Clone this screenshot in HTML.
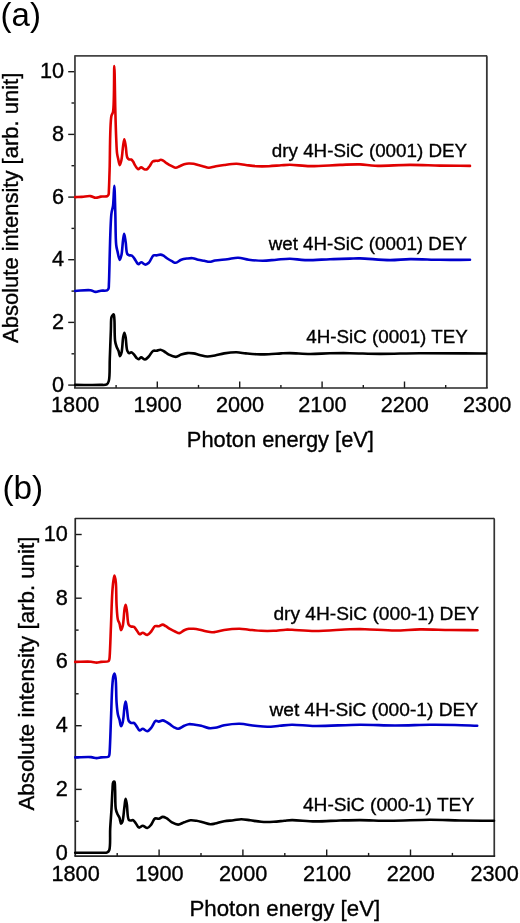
<!DOCTYPE html>
<html><head><meta charset="utf-8"><style>
html,body{margin:0;padding:0;background:#fff;}
svg{display:block;}
text{font-family:"Liberation Sans",Arial,sans-serif;fill:#000;stroke:#000;stroke-width:0.35px;}
.tk{font-size:21.7px;}
.ti{font-size:22px;}
.lg{font-size:18.8px;}
.pl{font-size:33px;stroke-width:0;}
</style></head><body>
<svg width="520" height="923" viewBox="0 0 520 923">
<rect width="520" height="923" fill="#fff"/>
<text x="0.6" y="25.8" class="pl">(a)</text>
<text x="2.4" y="499" class="pl" style="font-size:33.3px">(b)</text>
<text transform="translate(18.3,343) rotate(-90)" class="ti">Absolute intensity [arb. unit]</text>
<text transform="translate(33.5,810.5) rotate(-90)" class="ti" style="font-size:22.3px">Absolute intensity [arb. unit]</text>
<text x="186.8" y="446.9" class="ti" style="font-size:21.86px">Photon energy [eV]</text>
<text x="189.4" y="915.8" class="ti" style="font-size:22.3px">Photon energy [eV]</text>
<text x="271.85" y="157.1" class="lg">dry 4H-SiC (0001) DEY</text>
<text x="268.65" y="250.4" class="lg">wet 4H-SiC (0001) DEY</text>
<text x="306.3" y="343.1" class="lg">4H-SiC (0001) TEY</text>
<text x="273.4" y="620.4" class="lg" style="font-size:19.18px">dry 4H-SiC (000-1) DEY</text>
<text x="269.5" y="716.2" class="lg" style="font-size:19.15px">wet 4H-SiC (000-1) DEY</text>
<text x="302.9" y="810.8" class="lg" style="font-size:19.2px">4H-SiC (000-1) TEY</text>
<line x1="116.1" y1="388.1" x2="116.1" y2="384.90000000000003" stroke="#1a1a1a" stroke-width="1.4"/>
<line x1="157.3" y1="388.1" x2="157.3" y2="381.5" stroke="#1a1a1a" stroke-width="1.4"/>
<line x1="198.5" y1="388.1" x2="198.5" y2="384.90000000000003" stroke="#1a1a1a" stroke-width="1.4"/>
<line x1="239.7" y1="388.1" x2="239.7" y2="381.5" stroke="#1a1a1a" stroke-width="1.4"/>
<line x1="280.9" y1="388.1" x2="280.9" y2="384.90000000000003" stroke="#1a1a1a" stroke-width="1.4"/>
<line x1="322.1" y1="388.1" x2="322.1" y2="381.5" stroke="#1a1a1a" stroke-width="1.4"/>
<line x1="363.3" y1="388.1" x2="363.3" y2="384.90000000000003" stroke="#1a1a1a" stroke-width="1.4"/>
<line x1="404.5" y1="388.1" x2="404.5" y2="381.5" stroke="#1a1a1a" stroke-width="1.4"/>
<line x1="445.7" y1="388.1" x2="445.7" y2="384.90000000000003" stroke="#1a1a1a" stroke-width="1.4"/>
<line x1="68.2" y1="385.1" x2="74.95" y2="385.1" stroke="#1a1a1a" stroke-width="1.4"/>
<line x1="71.5" y1="353.8" x2="74.95" y2="353.8" stroke="#1a1a1a" stroke-width="1.4"/>
<line x1="68.2" y1="322.4" x2="74.95" y2="322.4" stroke="#1a1a1a" stroke-width="1.4"/>
<line x1="71.5" y1="291.1" x2="74.95" y2="291.1" stroke="#1a1a1a" stroke-width="1.4"/>
<line x1="68.2" y1="259.7" x2="74.95" y2="259.7" stroke="#1a1a1a" stroke-width="1.4"/>
<line x1="71.5" y1="228.4" x2="74.95" y2="228.4" stroke="#1a1a1a" stroke-width="1.4"/>
<line x1="68.2" y1="197.1" x2="74.95" y2="197.1" stroke="#1a1a1a" stroke-width="1.4"/>
<line x1="71.5" y1="165.7" x2="74.95" y2="165.7" stroke="#1a1a1a" stroke-width="1.4"/>
<line x1="68.2" y1="134.4" x2="74.95" y2="134.4" stroke="#1a1a1a" stroke-width="1.4"/>
<line x1="71.5" y1="103.0" x2="74.95" y2="103.0" stroke="#1a1a1a" stroke-width="1.4"/>
<line x1="68.2" y1="71.7" x2="74.95" y2="71.7" stroke="#1a1a1a" stroke-width="1.4"/>
<path d="M74.95,388.1 V55.8 H486.85" fill="none" stroke="#444" stroke-width="1.8" stroke-linejoin="round"/>
<path d="M485.95000000000005,55.8 Q486.85,55.8 486.85,56.699999999999996 V388.1" fill="none" stroke="#363636" stroke-width="1.8"/>
<path d="M74.05,388.1 H487.75" fill="none" stroke="#262626" stroke-width="1.5"/>
<path d="M75.20,197.10 C77.43,197.03 79.54,197.05 81.90,196.90 C84.54,196.73 87.82,195.87 90.30,196.10 C92.35,196.29 94.00,197.64 95.80,197.70 C97.50,197.76 99.03,196.84 100.80,196.60 C102.77,196.34 105.82,196.89 107.10,196.30 C107.83,195.96 108.18,195.51 108.50,194.80 C108.99,193.70 108.77,192.15 108.90,190.00 C109.16,185.62 109.32,178.29 109.60,170.00 C110.07,156.38 109.78,123.57 111.40,116.00 C111.85,113.89 112.56,114.18 113.00,112.10 C114.46,105.23 113.91,66.00 114.30,66.00 C114.68,66.00 114.95,96.52 115.30,109.50 C115.59,120.03 115.84,130.00 116.20,138.10 C116.47,144.08 116.59,149.91 117.10,153.70 C117.40,155.91 117.79,157.09 118.20,158.90 C118.65,160.88 119.13,165.07 119.70,165.10 C120.21,165.12 120.92,162.29 121.40,160.20 C122.20,156.71 122.52,149.77 123.10,145.90 C123.50,143.24 123.87,139.21 124.30,139.20 C124.73,139.19 125.26,143.35 125.70,145.90 C126.28,149.25 126.23,155.44 127.30,157.60 C127.81,158.63 128.49,159.21 129.20,159.50 C129.81,159.75 130.59,159.24 131.20,159.50 C131.91,159.81 132.51,160.67 133.10,161.50 C133.84,162.54 134.29,164.15 135.10,165.40 C135.95,166.72 136.99,168.99 138.10,169.20 C139.05,169.38 140.18,167.39 141.20,167.40 C142.21,167.41 143.18,168.92 144.20,169.20 C145.12,169.45 146.16,169.58 147.00,169.20 C148.00,168.74 148.73,167.34 149.60,166.20 C150.63,164.84 151.47,162.35 152.70,161.50 C153.62,160.86 154.84,160.91 155.80,160.80 C156.62,160.71 157.32,160.95 158.10,160.80 C158.98,160.63 159.90,159.70 160.80,159.70 C161.70,159.70 162.61,160.29 163.50,160.80 C164.51,161.38 165.32,162.32 166.50,163.10 C168.01,164.11 170.22,165.40 171.90,166.20 C173.28,166.86 174.51,167.71 175.80,167.70 C177.08,167.69 178.28,166.74 179.60,166.20 C181.06,165.61 182.64,164.75 184.20,164.30 C185.71,163.86 187.25,163.58 188.80,163.50 C190.35,163.42 191.96,163.54 193.50,163.80 C195.06,164.07 196.56,164.70 198.10,165.10 C199.63,165.50 201.06,165.80 202.70,166.20 C204.59,166.66 206.75,167.65 208.80,167.70 C210.85,167.75 212.73,166.91 215.00,166.50 C217.76,166.01 220.90,165.43 224.20,165.00 C228.00,164.51 232.69,163.74 236.50,163.80 C239.82,163.85 242.59,164.61 245.80,165.00 C249.24,165.41 252.80,165.99 256.50,166.20 C260.45,166.42 264.69,166.35 268.80,166.20 C272.93,166.05 277.42,165.54 281.20,165.30 C284.38,165.09 286.47,164.79 290.00,164.80 C295.32,164.82 302.66,166.01 310.00,166.10 C318.99,166.21 331.01,165.19 340.00,164.90 C347.34,164.66 353.82,164.19 360.00,164.40 C365.36,164.58 368.95,165.60 375.00,165.80 C384.22,166.11 398.78,164.91 410.00,164.90 C420.39,164.89 430.00,165.43 440.00,165.60 C450.00,165.77 460.00,165.80 470.00,165.90" fill="none" stroke="#e00000" stroke-width="2.6" stroke-linejoin="round" stroke-linecap="round"/>
<path d="M75.20,291.00 C80.23,290.73 86.59,289.72 90.30,290.20 C92.55,290.49 93.83,291.83 95.60,291.90 C97.33,291.97 98.97,290.95 100.80,290.70 C102.79,290.43 105.82,291.02 107.10,290.40 C107.84,290.04 108.18,289.54 108.50,288.80 C108.98,287.68 108.75,286.54 108.90,284.00 C109.48,274.30 110.01,225.47 111.40,213.80 C111.87,209.87 112.57,209.23 113.00,206.00 C113.69,200.86 113.93,185.80 114.30,185.80 C114.72,185.81 115.00,203.16 115.30,212.50 C115.64,222.80 115.44,238.36 116.20,245.00 C116.54,247.98 116.97,249.12 117.50,251.40 C118.11,254.04 118.95,259.86 119.70,259.90 C120.26,259.93 120.92,257.33 121.40,255.30 C122.25,251.68 122.51,243.63 123.10,239.70 C123.46,237.29 123.81,233.90 124.20,233.90 C124.67,233.90 125.22,239.26 125.70,242.30 C126.26,245.87 126.14,252.12 127.30,254.00 C127.81,254.83 128.48,255.03 129.20,255.30 C129.97,255.59 131.01,255.18 131.80,255.60 C132.78,256.12 133.53,257.43 134.40,258.60 C135.49,260.06 136.86,263.01 137.70,263.80 C138.04,264.12 138.23,264.33 138.60,264.30 C139.25,264.25 140.19,262.38 141.20,262.30 C142.43,262.20 144.16,264.61 145.50,264.60 C146.67,264.60 147.73,263.80 148.80,262.80 C150.44,261.27 151.84,256.31 153.50,255.40 C154.47,254.87 155.44,255.51 156.50,255.40 C157.72,255.28 159.19,254.52 160.40,254.60 C161.50,254.68 162.46,255.15 163.50,255.70 C164.75,256.36 165.95,257.61 167.30,258.50 C168.74,259.45 170.40,260.46 171.90,261.20 C173.23,261.86 174.42,262.89 175.80,262.80 C177.48,262.69 179.28,260.42 181.20,259.70 C183.12,258.98 185.32,258.75 187.30,258.50 C189.15,258.27 190.92,258.01 192.70,258.20 C194.52,258.40 196.23,259.27 198.10,259.70 C200.06,260.15 202.23,260.44 204.20,260.80 C206.06,261.14 207.81,261.85 209.60,261.80 C211.41,261.75 212.82,260.88 215.00,260.50 C218.25,259.94 223.34,259.68 227.30,259.20 C231.02,258.75 234.52,257.62 238.10,257.70 C241.68,257.78 244.99,259.19 248.80,259.70 C253.12,260.27 258.08,260.80 262.70,260.80 C267.31,260.80 271.92,260.05 276.50,259.70 C281.02,259.35 285.38,258.66 290.00,258.70 C294.87,258.75 299.36,259.94 305.00,260.10 C312.27,260.31 322.13,259.46 330.00,259.20 C337.04,258.97 344.48,258.74 350.00,258.60 C353.90,258.50 355.78,258.32 360.00,258.40 C367.32,258.53 381.01,260.07 390.00,260.10 C397.34,260.12 402.66,259.20 410.00,259.10 C418.99,258.98 430.00,259.68 440.00,259.80 C450.00,259.92 460.00,259.80 470.00,259.80" fill="none" stroke="#0000cc" stroke-width="2.6" stroke-linejoin="round" stroke-linecap="round"/>
<path d="M75.20,384.90 C83.47,384.90 94.32,385.11 100.00,384.90 C102.98,384.79 105.32,385.32 106.80,384.40 C107.92,383.70 108.29,382.72 108.80,381.00 C110.02,376.88 109.47,366.49 109.80,358.50 C110.17,349.40 110.57,336.94 110.90,329.30 C111.11,324.36 110.80,319.40 111.50,317.10 C111.80,316.10 112.26,315.57 112.70,315.10 C113.01,314.76 113.44,314.29 113.70,314.40 C114.24,314.63 114.21,317.21 114.40,319.50 C114.80,324.19 114.40,336.13 115.10,341.00 C115.47,343.57 115.97,345.09 116.60,346.80 C117.14,348.26 117.96,349.27 118.50,350.70 C119.12,352.33 119.44,356.06 120.00,356.10 C120.46,356.13 121.07,354.29 121.50,352.70 C122.38,349.43 122.52,340.69 123.20,337.10 C123.57,335.17 124.00,332.70 124.40,332.70 C124.80,332.70 125.23,335.21 125.60,337.10 C126.25,340.37 126.19,348.06 127.30,350.70 C127.84,351.98 128.57,353.05 129.30,353.20 C129.89,353.32 130.54,352.15 131.20,352.20 C132.00,352.27 132.89,353.28 133.70,354.10 C134.71,355.12 135.64,357.13 136.60,358.00 C137.27,358.60 137.90,359.22 138.60,359.20 C139.42,359.17 140.23,357.45 141.20,357.40 C142.33,357.34 143.77,359.60 145.00,359.50 C146.30,359.39 147.56,357.75 148.80,356.50 C150.31,354.97 151.64,351.57 153.20,350.80 C154.26,350.28 155.37,350.96 156.50,350.80 C157.76,350.63 159.13,349.59 160.40,349.70 C161.70,349.81 162.90,350.76 164.20,351.50 C165.69,352.35 167.04,353.74 168.80,354.60 C170.83,355.59 173.63,356.99 175.80,356.90 C177.73,356.82 179.32,355.23 181.20,354.60 C183.15,353.95 185.24,353.30 187.30,353.10 C189.34,352.90 191.46,353.10 193.50,353.40 C195.56,353.70 197.44,354.41 199.60,354.90 C202.01,355.45 204.73,356.40 207.30,356.50 C209.86,356.60 212.33,355.98 215.00,355.50 C217.94,354.97 220.89,353.92 224.20,353.40 C227.98,352.80 232.69,352.25 236.50,352.30 C239.82,352.35 242.59,353.08 245.80,353.40 C249.24,353.75 252.81,354.16 256.50,354.30 C260.45,354.45 264.69,354.35 268.80,354.20 C272.93,354.05 277.42,353.59 281.20,353.40 C284.38,353.24 286.47,353.08 290.00,353.10 C295.32,353.13 303.33,353.97 310.00,354.00 C316.67,354.03 323.33,353.43 330.00,353.30 C336.67,353.17 342.66,353.13 350.00,353.20 C358.99,353.28 369.28,353.87 380.00,353.90 C392.38,353.94 405.01,353.30 420.00,353.20 C439.26,353.08 464.00,353.40 486.00,353.50" fill="none" stroke="#000" stroke-width="2.6" stroke-linejoin="round" stroke-linecap="round"/>
<text x="64.0" y="391.6" text-anchor="end" class="tk">0</text>
<text x="64.0" y="328.9" text-anchor="end" class="tk">2</text>
<text x="64.0" y="266.2" text-anchor="end" class="tk">4</text>
<text x="64.0" y="203.5" text-anchor="end" class="tk">6</text>
<text x="64.0" y="140.8" text-anchor="end" class="tk">8</text>
<text x="64.0" y="78.2" text-anchor="end" class="tk">10</text>
<text x="75.2" y="412.2" text-anchor="middle" class="tk">1800</text>
<text x="157.6" y="412.2" text-anchor="middle" class="tk">1900</text>
<text x="240.0" y="412.2" text-anchor="middle" class="tk">2000</text>
<text x="322.4" y="412.2" text-anchor="middle" class="tk">2100</text>
<text x="404.8" y="412.2" text-anchor="middle" class="tk">2200</text>
<text x="487.2" y="412.2" text-anchor="middle" class="tk">2300</text>
<line x1="117.2" y1="856.1" x2="117.2" y2="852.9" stroke="#1a1a1a" stroke-width="1.4"/>
<line x1="159.1" y1="856.1" x2="159.1" y2="849.5" stroke="#1a1a1a" stroke-width="1.4"/>
<line x1="201.0" y1="856.1" x2="201.0" y2="852.9" stroke="#1a1a1a" stroke-width="1.4"/>
<line x1="242.9" y1="856.1" x2="242.9" y2="849.5" stroke="#1a1a1a" stroke-width="1.4"/>
<line x1="284.8" y1="856.1" x2="284.8" y2="852.9" stroke="#1a1a1a" stroke-width="1.4"/>
<line x1="326.7" y1="856.1" x2="326.7" y2="849.5" stroke="#1a1a1a" stroke-width="1.4"/>
<line x1="368.6" y1="856.1" x2="368.6" y2="852.9" stroke="#1a1a1a" stroke-width="1.4"/>
<line x1="410.5" y1="856.1" x2="410.5" y2="849.5" stroke="#1a1a1a" stroke-width="1.4"/>
<line x1="452.4" y1="856.1" x2="452.4" y2="852.9" stroke="#1a1a1a" stroke-width="1.4"/>
<line x1="75.26" y1="821.3" x2="78.6" y2="821.3" stroke="#1a1a1a" stroke-width="1.4"/>
<line x1="75.26" y1="789.4" x2="81.7" y2="789.4" stroke="#1a1a1a" stroke-width="1.4"/>
<line x1="75.26" y1="757.5" x2="78.6" y2="757.5" stroke="#1a1a1a" stroke-width="1.4"/>
<line x1="75.26" y1="725.7" x2="81.7" y2="725.7" stroke="#1a1a1a" stroke-width="1.4"/>
<line x1="75.26" y1="693.8" x2="78.6" y2="693.8" stroke="#1a1a1a" stroke-width="1.4"/>
<line x1="75.26" y1="661.9" x2="81.7" y2="661.9" stroke="#1a1a1a" stroke-width="1.4"/>
<line x1="75.26" y1="630.1" x2="78.6" y2="630.1" stroke="#1a1a1a" stroke-width="1.4"/>
<line x1="75.26" y1="598.2" x2="81.7" y2="598.2" stroke="#1a1a1a" stroke-width="1.4"/>
<line x1="75.26" y1="566.3" x2="78.6" y2="566.3" stroke="#1a1a1a" stroke-width="1.4"/>
<line x1="75.26" y1="534.5" x2="81.7" y2="534.5" stroke="#1a1a1a" stroke-width="1.4"/>
<path d="M75.26,856.1 V518.5 H494.27" fill="none" stroke="#262626" stroke-width="1.7" stroke-linejoin="round"/>
<path d="M493.41999999999996,518.5 Q494.27,518.5 494.27,519.35 V856.1" fill="none" stroke="#333" stroke-width="1.7"/>
<path d="M74.36,856.1 H495.16999999999996" fill="none" stroke="#222" stroke-width="1.6"/>
<path d="M75.20,661.90 C80.47,661.83 87.08,661.41 91.00,661.70 C93.35,661.87 94.85,662.60 96.60,662.60 C98.15,662.60 99.34,662.10 101.00,661.90 C103.14,661.64 107.18,662.13 108.40,661.30 C109.04,660.87 109.09,660.22 109.30,659.50 C109.58,658.55 109.56,657.75 109.70,656.00 C110.11,650.80 110.57,635.37 111.00,624.90 C111.44,614.21 111.76,600.60 112.30,592.50 C112.63,587.62 112.93,583.91 113.40,580.80 C113.72,578.71 114.12,575.60 114.50,575.60 C114.92,575.60 115.47,579.24 115.80,582.10 C116.42,587.47 116.17,598.67 116.60,605.50 C116.93,610.83 117.11,616.48 117.90,619.70 C118.33,621.45 119.03,622.11 119.50,623.60 C120.10,625.47 120.38,630.04 121.00,630.10 C121.49,630.15 122.21,628.03 122.70,626.20 C123.71,622.41 123.95,611.56 124.70,608.00 C125.02,606.48 125.38,604.78 125.70,604.80 C126.17,604.83 126.56,609.17 127.00,611.90 C127.59,615.58 127.45,622.74 128.80,624.90 C129.43,625.91 130.33,626.17 131.20,626.50 C132.06,626.83 133.14,626.40 134.00,626.90 C135.13,627.56 136.04,629.53 137.00,630.80 C137.90,631.99 138.58,634.05 139.60,634.30 C140.51,634.52 141.56,632.81 142.70,632.80 C144.08,632.78 145.89,635.10 147.30,634.90 C148.73,634.69 149.98,632.84 151.20,631.50 C152.57,629.99 153.51,626.96 155.00,626.20 C156.14,625.62 157.55,626.45 158.80,626.20 C160.12,625.94 161.49,624.55 162.70,624.60 C163.80,624.65 164.68,625.55 165.80,626.20 C167.20,627.02 168.84,628.31 170.40,629.20 C171.91,630.07 173.45,630.84 175.00,631.50 C176.51,632.14 178.10,633.26 179.60,633.10 C181.17,632.93 182.62,631.02 184.20,630.30 C185.69,629.61 187.24,629.05 188.80,628.80 C190.34,628.56 191.84,628.68 193.50,628.80 C195.41,628.94 197.57,629.31 199.60,629.70 C201.67,630.10 203.74,630.76 205.80,631.20 C207.84,631.63 210.20,632.23 211.90,632.30 C213.10,632.35 213.70,632.20 215.00,632.00 C217.26,631.65 220.72,630.51 224.20,630.00 C228.66,629.35 235.13,628.76 239.60,628.80 C243.06,628.83 245.50,629.39 248.80,629.70 C252.62,630.06 257.07,630.62 261.20,630.80 C265.30,630.98 269.40,630.98 273.50,630.80 C277.60,630.62 282.39,629.82 285.80,629.70 C288.21,629.61 289.28,629.71 292.00,629.80 C297.24,629.98 306.53,630.98 315.00,631.00 C325.45,631.02 340.77,629.55 350.00,629.30 C356.04,629.13 359.14,629.09 365.00,629.20 C373.29,629.35 385.46,630.50 395.00,630.50 C403.71,630.50 411.29,629.50 420.00,629.40 C429.54,629.29 440.22,629.87 450.00,630.00 C459.37,630.13 468.33,630.13 477.50,630.20" fill="none" stroke="#e00000" stroke-width="2.6" stroke-linejoin="round" stroke-linecap="round"/>
<path d="M75.20,757.40 C80.47,757.30 87.08,756.79 91.00,757.10 C93.35,757.29 94.84,758.08 96.60,758.10 C98.15,758.11 99.34,757.60 101.00,757.40 C103.14,757.14 107.18,757.63 108.40,756.80 C109.04,756.37 109.09,755.74 109.30,755.00 C109.60,753.95 109.56,752.98 109.70,751.00 C110.09,745.37 110.57,729.25 111.00,718.40 C111.43,707.58 111.72,693.66 112.30,686.00 C112.62,681.78 112.83,678.39 113.40,676.20 C113.71,675.03 114.17,673.57 114.50,673.60 C114.93,673.64 115.30,676.04 115.60,678.20 C116.28,683.14 116.09,696.21 116.60,702.90 C116.95,707.50 117.26,711.42 117.90,714.50 C118.34,716.60 119.01,717.86 119.50,719.70 C120.05,721.74 120.38,726.14 121.00,726.20 C121.49,726.25 122.21,724.10 122.70,722.30 C123.68,718.70 124.02,709.13 124.70,705.50 C125.03,703.73 125.38,701.59 125.70,701.60 C126.15,701.62 126.54,706.54 127.00,709.40 C127.56,712.88 127.57,718.83 128.80,721.00 C129.43,722.12 130.30,722.68 131.20,723.00 C132.05,723.31 133.14,722.58 134.00,723.00 C135.14,723.56 136.04,725.63 137.00,726.90 C137.90,728.09 138.58,730.16 139.60,730.40 C140.51,730.61 141.57,728.80 142.70,728.80 C144.08,728.80 145.88,731.37 147.30,731.20 C148.72,731.03 149.94,729.24 151.20,727.80 C152.80,725.97 154.20,721.41 155.80,720.80 C156.77,720.43 157.74,721.62 158.80,721.60 C160.02,721.58 161.48,720.36 162.70,720.40 C163.80,720.44 164.70,721.03 165.80,721.60 C167.22,722.34 168.94,723.71 170.40,724.70 C171.73,725.60 172.88,726.61 174.20,727.30 C175.45,727.96 176.67,728.86 178.10,728.80 C179.92,728.72 182.29,726.60 184.20,725.80 C185.82,725.12 187.13,724.41 188.80,724.20 C190.69,723.96 192.94,724.43 195.00,724.70 C197.07,724.97 199.04,725.28 201.20,725.80 C203.62,726.38 206.37,727.80 208.80,728.10 C210.95,728.37 212.75,728.16 215.00,727.80 C217.79,727.36 220.71,725.94 224.20,725.30 C228.65,724.49 234.47,723.72 239.60,723.80 C244.74,723.88 250.15,725.29 255.00,725.80 C259.32,726.26 263.20,726.80 267.30,726.80 C271.40,726.80 275.50,726.15 279.60,725.80 C283.70,725.45 287.16,724.78 291.90,724.70 C298.39,724.59 306.03,725.88 315.00,726.00 C327.52,726.17 345.94,724.74 360.00,724.70 C372.40,724.66 383.33,725.48 395.00,725.50 C406.67,725.52 419.31,724.86 430.00,724.80 C439.03,724.75 446.92,724.82 455.00,725.00 C462.62,725.17 469.80,725.53 477.20,725.80" fill="none" stroke="#0000cc" stroke-width="2.6" stroke-linejoin="round" stroke-linecap="round"/>
<path d="M75.20,852.70 C83.47,852.70 94.19,852.82 100.00,852.70 C103.16,852.64 105.72,853.18 107.30,852.40 C108.33,851.89 108.79,851.33 109.30,850.00 C110.65,846.50 109.82,835.49 110.20,828.50 C110.56,821.84 111.12,815.50 111.50,809.00 C111.88,802.50 112.14,794.43 112.50,789.50 C112.72,786.48 112.46,783.20 113.20,782.20 C113.51,781.78 114.09,781.51 114.40,781.70 C115.17,782.16 114.90,786.31 115.10,789.50 C115.42,794.53 115.04,804.69 115.80,809.00 C116.19,811.21 116.75,812.39 117.40,813.90 C118.00,815.30 118.93,816.33 119.50,817.80 C120.17,819.53 120.35,823.58 121.00,823.70 C121.41,823.77 121.99,822.75 122.40,821.70 C123.41,819.13 123.81,811.28 124.40,807.10 C124.84,803.94 125.15,798.82 125.60,798.80 C125.97,798.79 126.40,801.85 126.80,804.10 C127.48,807.93 127.23,817.91 128.80,819.80 C129.40,820.52 130.26,820.44 131.00,820.50 C131.73,820.56 132.49,819.92 133.20,820.20 C134.22,820.60 135.15,822.49 136.10,823.70 C137.08,824.95 137.84,827.32 139.00,827.60 C140.07,827.86 141.40,825.80 142.70,825.80 C144.15,825.80 145.89,828.19 147.30,828.00 C148.72,827.81 150.00,826.01 151.20,824.60 C152.61,822.94 153.46,819.28 155.00,818.50 C156.12,817.93 157.56,819.04 158.80,818.80 C160.13,818.55 161.39,816.98 162.70,816.90 C163.96,816.82 165.18,817.50 166.50,818.20 C168.21,819.11 169.95,821.23 171.90,822.30 C173.82,823.36 176.04,824.61 178.10,824.60 C180.14,824.59 182.15,823.02 184.20,822.30 C186.25,821.58 188.32,820.54 190.40,820.30 C192.42,820.07 194.47,820.47 196.50,820.80 C198.57,821.13 200.52,821.75 202.70,822.30 C205.13,822.91 208.15,824.18 210.40,824.30 C212.12,824.39 213.21,823.97 215.00,823.60 C217.55,823.07 221.10,821.75 224.20,821.20 C227.27,820.65 230.55,820.65 233.50,820.30 C236.19,819.98 238.52,819.23 241.20,819.20 C244.13,819.17 247.21,819.89 250.40,820.30 C253.86,820.75 257.47,821.54 261.20,821.80 C265.16,822.07 269.55,821.98 273.50,821.80 C277.20,821.63 280.91,821.10 284.20,820.80 C287.00,820.54 288.71,820.15 292.00,820.10 C297.64,820.01 307.17,821.32 315.00,821.40 C323.16,821.48 332.13,820.72 340.00,820.50 C347.04,820.30 352.66,820.09 360.00,820.10 C368.99,820.11 379.28,820.81 390.00,820.80 C402.38,820.79 417.62,819.81 430.00,819.80 C440.72,819.79 449.69,820.33 460.00,820.50 C470.98,820.68 482.67,820.70 494.00,820.80" fill="none" stroke="#000" stroke-width="2.6" stroke-linejoin="round" stroke-linecap="round"/>
<text x="67.9" y="859.6" text-anchor="end" class="tk">0</text>
<text x="67.9" y="795.9" text-anchor="end" class="tk">2</text>
<text x="67.9" y="732.2" text-anchor="end" class="tk">4</text>
<text x="67.9" y="668.4" text-anchor="end" class="tk">6</text>
<text x="67.9" y="604.7" text-anchor="end" class="tk">8</text>
<text x="67.9" y="541.0" text-anchor="end" class="tk">10</text>
<text x="75.6" y="880.6" text-anchor="middle" class="tk">1800</text>
<text x="159.4" y="880.6" text-anchor="middle" class="tk">1900</text>
<text x="243.2" y="880.6" text-anchor="middle" class="tk">2000</text>
<text x="327.0" y="880.6" text-anchor="middle" class="tk">2100</text>
<text x="410.8" y="880.6" text-anchor="middle" class="tk">2200</text>
<text x="494.6" y="880.6" text-anchor="middle" class="tk">2300</text>
</svg>
</body></html>
